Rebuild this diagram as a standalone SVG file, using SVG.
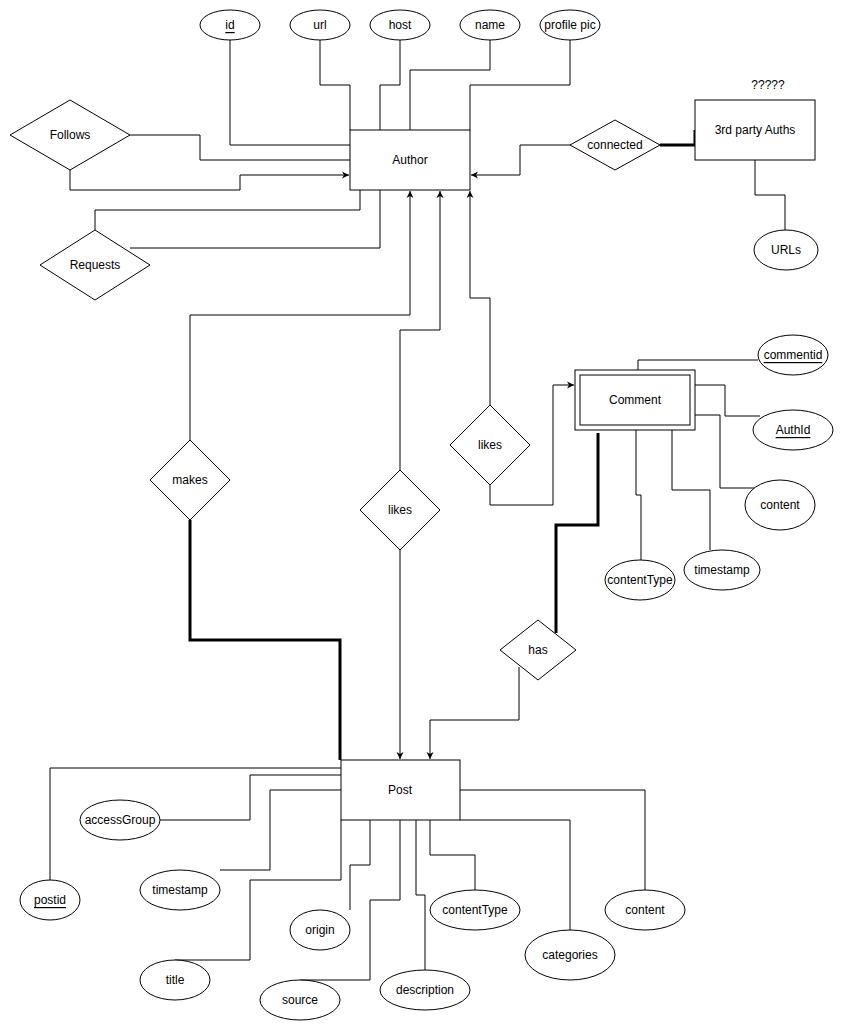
<svg xmlns="http://www.w3.org/2000/svg" width="844" height="1031" viewBox="0 0 844 1031">
<style>
text{font-family:"Liberation Sans",Arial,sans-serif;font-size:12px;fill:#000;text-anchor:middle;dominant-baseline:central}
.s{fill:#fff;stroke:#000;stroke-width:1}
.c path{fill:none;stroke:#000;stroke-width:1}
.c path.t{stroke-width:3}
.u{text-decoration:underline}
</style>
<defs><marker id="a" markerWidth="8" markerHeight="8" refX="7" refY="4" orient="auto" markerUnits="userSpaceOnUse"><path d="M0,0.5 L7,4 L0,7.5 L2,4 z" fill="#000"/></marker></defs>
<rect width="844" height="1031" fill="#fff"/>
<g class="c">
<path d="M230,40V145H350"/><path d="M320,40V85H350V130"/><path d="M400,40V85H380V130"/><path d="M490,40V70H410V130"/><path d="M570,40V85H470V130"/>
<path d="M130,135H200V160H350"/><path d="M70,170V190H240V175H349" marker-end="url(#a)"/>
<path d="M95,230V210H360V190"/><path d="M130,248H380V190"/>
<path d="M570,145H520V175H471" marker-end="url(#a)"/><path class="t" d="M660,145H695V130"/>
<path d="M755,160V195H785V230"/>
<path d="M190,440V315H410V191" marker-end="url(#a)"/><path class="t" d="M190,520V640H340V760"/>
<path d="M400,470V330H440V191" marker-end="url(#a)"/><path d="M400,550V759" marker-end="url(#a)"/>
<path d="M490,405V298H470V191" marker-end="url(#a)"/><path d="M490,485V505H553V385H574" marker-end="url(#a)"/>
<path d="M638,370V360H758"/><path d="M695,385H725V416H760"/><path d="M695,415H720V488H755"/>
<path d="M636,430V495H641V560"/><path d="M672,430V490H710V550"/>
<path class="t" d="M598,433V525H556V633"/><path d="M519,667V720H430V759" marker-end="url(#a)"/>
<path d="M50,880V768H341"/><path d="M160,820H250V775H341"/><path d="M220,870H270V790H341"/>
<path d="M175,960H250V880H341V820"/><path d="M350,910V865H370V820"/><path d="M300,980H370V900H400V820"/>
<path d="M425,970V895H416V820"/><path d="M475,890V855H430V820"/><path d="M570,930V820H460"/><path d="M645,890V790H460"/>
</g>
<g id="author"><rect class="s" x="350" y="130" width="120" height="60"/><text x="410" y="160">Author</text></g>
<g id="a-id"><ellipse class="s" cx="230" cy="25" rx="30" ry="15"/><text class="u" x="230" y="25">id</text></g>
<g id="a-url"><ellipse class="s" cx="320" cy="25" rx="30" ry="15"/><text x="320" y="25">url</text></g>
<g id="a-host"><ellipse class="s" cx="400" cy="25" rx="30" ry="15"/><text x="400" y="25">host</text></g>
<g id="a-name"><ellipse class="s" cx="490" cy="25" rx="30" ry="15"/><text x="490" y="25">name</text></g>
<g id="a-pic"><ellipse class="s" cx="570" cy="25" rx="30" ry="15"/><text x="570" y="25">profile pic</text></g>
<g id="follows"><polygon class="s" points="10,135 70,100 130,135 70,170"/><text x="70" y="135">Follows</text></g>
<g id="requests"><polygon class="s" points="40,265 95,230 150,265 95,300"/><text x="95" y="265">Requests</text></g>
<g id="connected"><polygon class="s" points="570,145 615,120 660,145 615,170"/><text x="615" y="145">connected</text></g>
<g id="auths"><rect class="s" x="695" y="100" width="120" height="60"/><text x="755" y="130">3rd party Auths</text><text x="768" y="85">?????</text></g>
<g id="urls"><ellipse class="s" cx="786" cy="250" rx="32" ry="20"/><text x="786" y="250">URLs</text></g>
<g id="makes"><polygon class="s" points="150,480 190,440 230,480 190,520"/><text x="190" y="480">makes</text></g>
<g id="likes-post"><polygon class="s" points="360,510 400,470 440,510 400,550"/><text x="400" y="510">likes</text></g>
<g id="likes-comment"><polygon class="s" points="450,445 490,405 530,445 490,485"/><text x="490" y="445">likes</text></g>
<g id="comment"><rect class="s" x="575" y="370" width="120" height="60"/><rect class="s" x="580" y="375" width="110" height="50"/><text x="635" y="400">Comment</text></g>
<g id="c-id"><ellipse class="s" cx="793" cy="355" rx="35" ry="20"/><text class="u" x="793" y="355">commentid</text></g>
<g id="c-auth"><ellipse class="s" cx="793" cy="430" rx="40" ry="20"/><text class="u" x="793" y="430">AuthId</text></g>
<g id="c-content"><ellipse class="s" cx="780" cy="505" rx="35" ry="25"/><text x="780" y="505">content</text></g>
<g id="c-ct"><ellipse class="s" cx="640" cy="580" rx="35" ry="20"/><text x="640" y="580">contentType</text></g>
<g id="c-ts"><ellipse class="s" cx="722" cy="570" rx="38" ry="20"/><text x="722" y="570">timestamp</text></g>
<g id="has"><polygon class="s" points="500,650 538,620 576,650 538,680"/><text x="538" y="650">has</text></g>
<g id="post"><rect class="s" x="341" y="760" width="119" height="60"/><text x="400" y="790">Post</text></g>
<g id="p-id"><ellipse class="s" cx="50" cy="900" rx="30" ry="20"/><text class="u" x="50" y="900">postid</text></g>
<g id="p-ag"><ellipse class="s" cx="120" cy="820" rx="40" ry="20"/><text x="120" y="820">accessGroup</text></g>
<g id="p-ts"><ellipse class="s" cx="180" cy="890" rx="40" ry="20"/><text x="180" y="890">timestamp</text></g>
<g id="p-title"><ellipse class="s" cx="175" cy="980" rx="35" ry="20"/><text x="175" y="980">title</text></g>
<g id="p-origin"><ellipse class="s" cx="320" cy="930" rx="30" ry="20"/><text x="320" y="930">origin</text></g>
<g id="p-source"><ellipse class="s" cx="300" cy="1000" rx="40" ry="20"/><text x="300" y="1000">source</text></g>
<g id="p-desc"><ellipse class="s" cx="425" cy="990" rx="45" ry="20"/><text x="425" y="990">description</text></g>
<g id="p-ct"><ellipse class="s" cx="475" cy="910" rx="45" ry="20"/><text x="475" y="910">contentType</text></g>
<g id="p-cat"><ellipse class="s" cx="570" cy="955" rx="45" ry="25"/><text x="570" y="955">categories</text></g>
<g id="p-content"><ellipse class="s" cx="645" cy="910" rx="40" ry="20"/><text x="645" y="910">content</text></g>
</svg>
